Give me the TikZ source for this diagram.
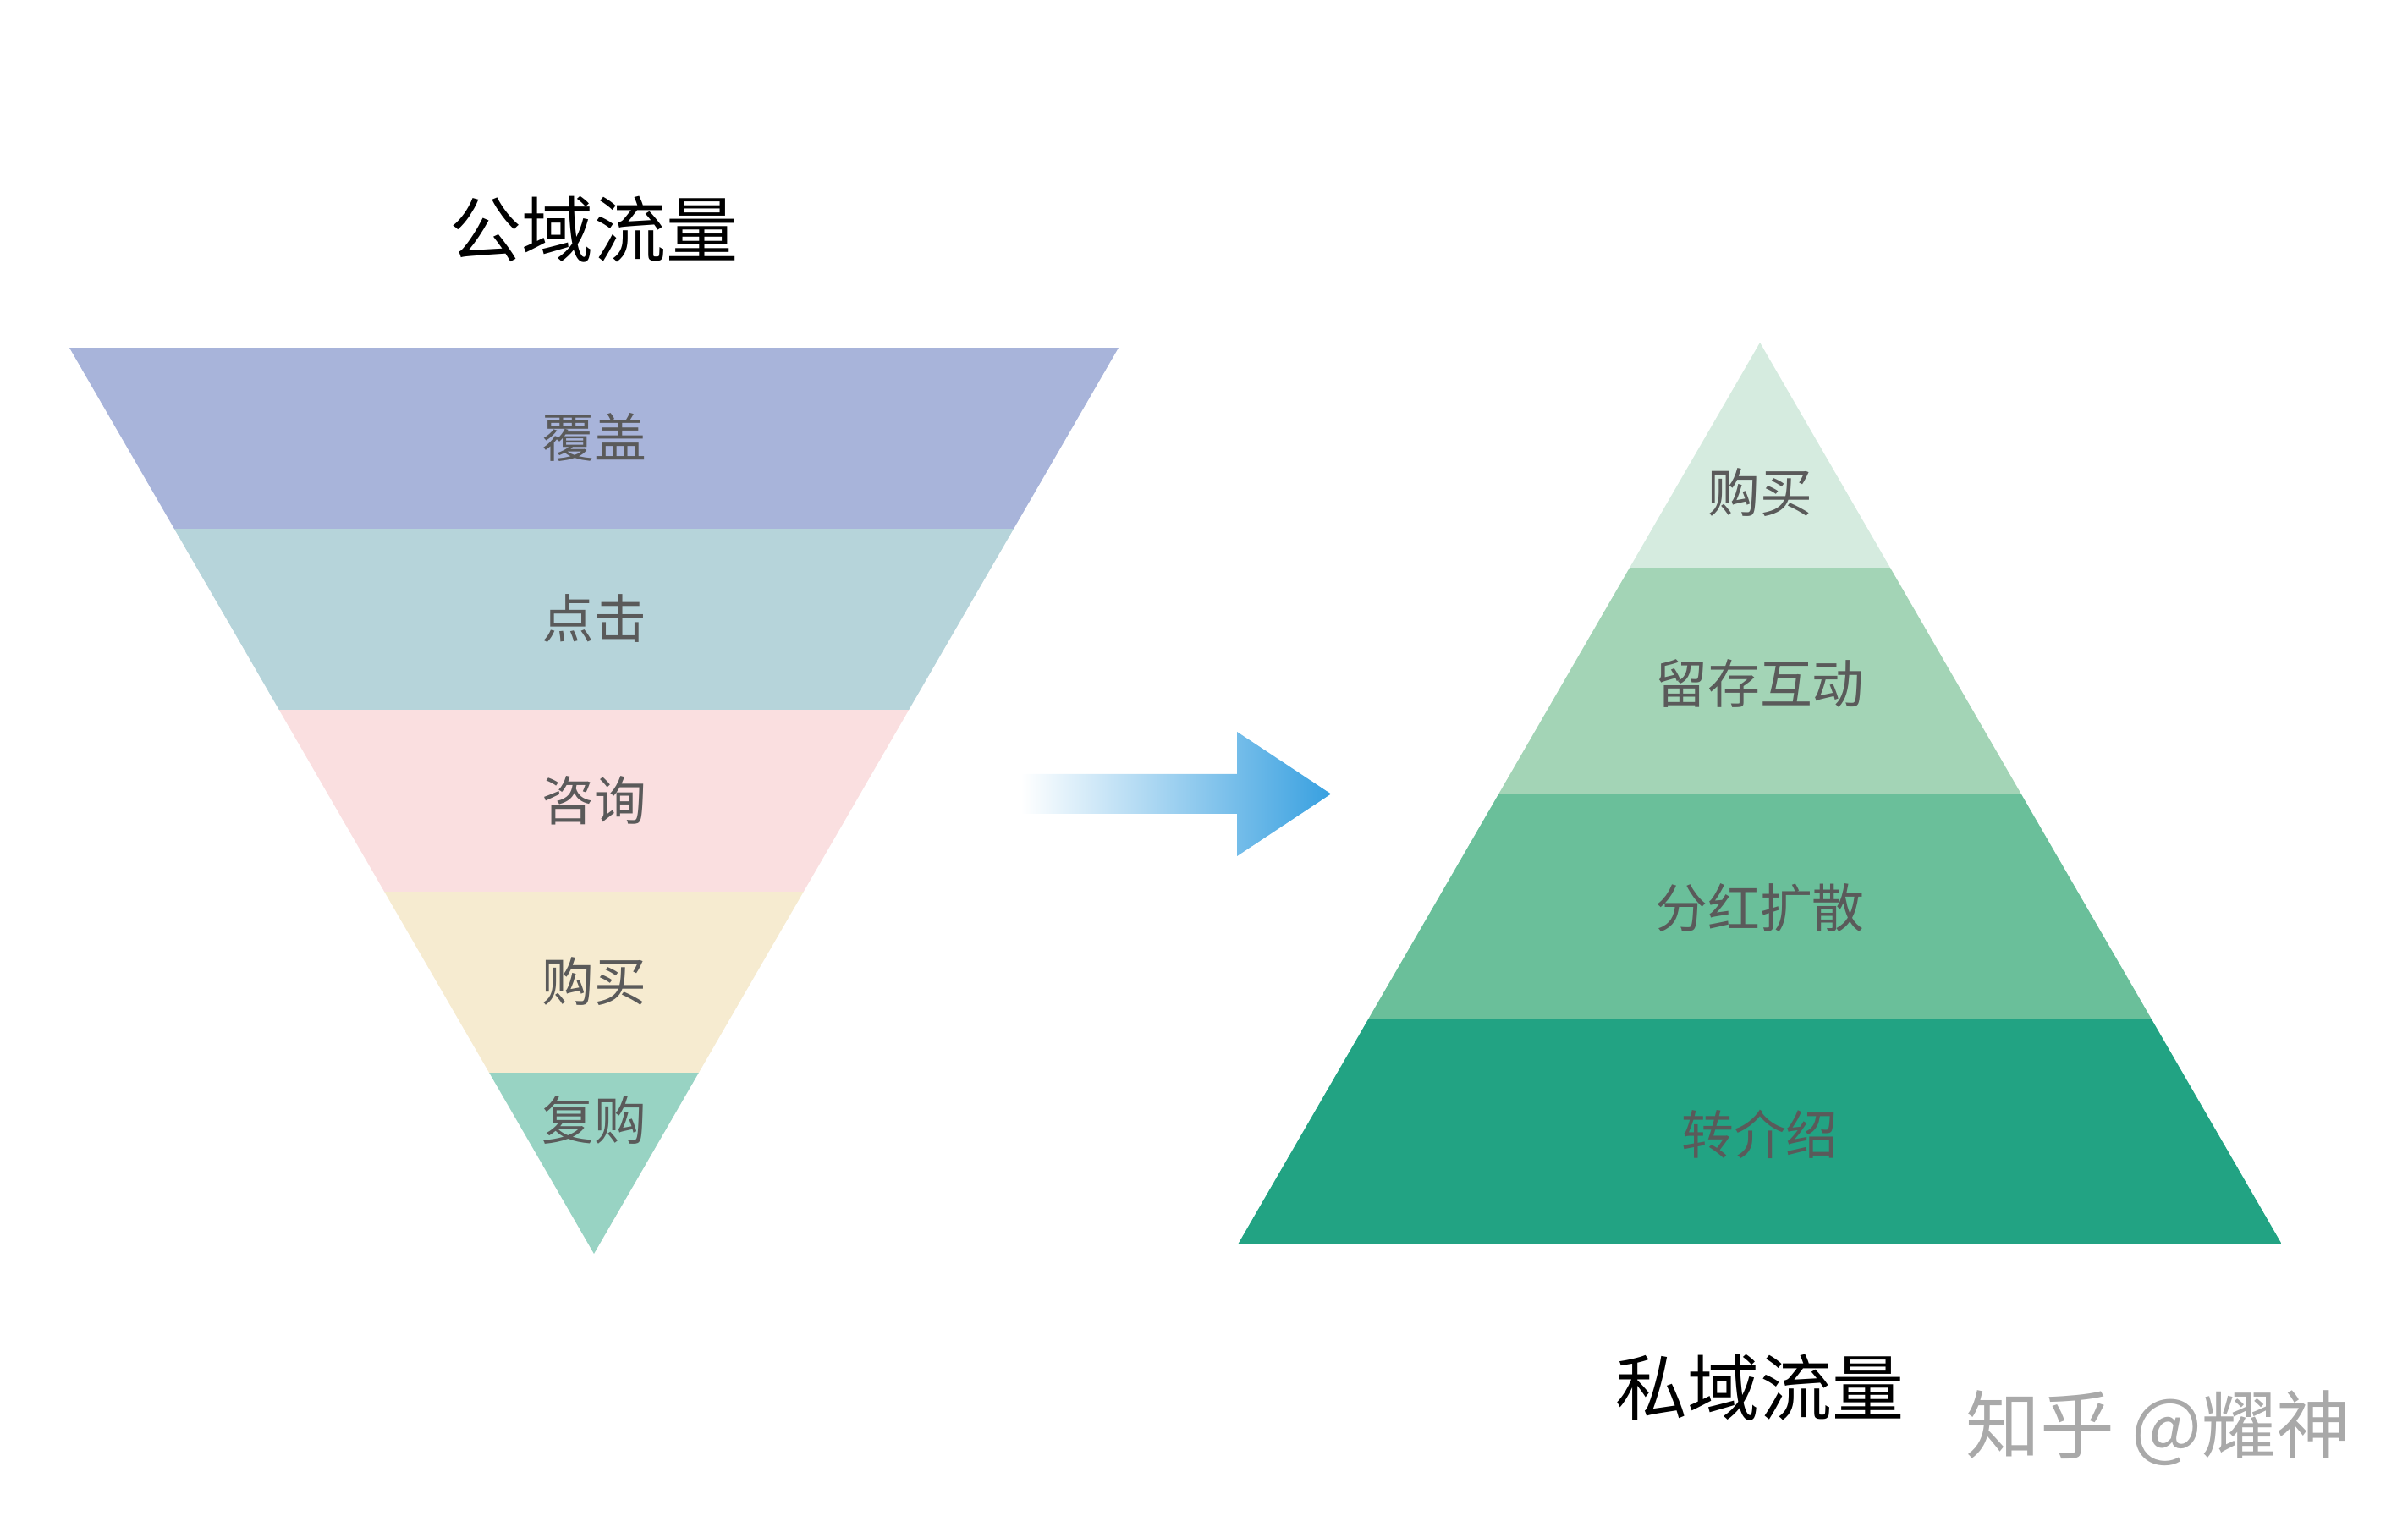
\documentclass[tikz,border=0pt]{standalone}
\usepackage{fontspec}
\newfontfamily\cjk{Noto Sans CJK SC}

\definecolor{funA}{HTML}{A8B4DA}
\definecolor{funB}{HTML}{B6D4DA}
\definecolor{funC}{HTML}{FADFE0}
\definecolor{funD}{HTML}{F6EBD0}
\definecolor{funE}{HTML}{98D3C3}
\definecolor{pyrA}{HTML}{D5EBDF}
\definecolor{pyrB}{HTML}{A3D4B6}
\definecolor{pyrC}{HTML}{6ABF9A}
\definecolor{pyrD}{HTML}{22A383}
\definecolor{labelgray}{HTML}{5A5A5A}
\definecolor{markgray}{HTML}{A9A9A9}
\definecolor{arrowblue}{HTML}{38A0E0}

\tikzset{layertext/.style={
    font=\cjk\fontsize{17.6}{20}\selectfont,
    text=labelgray,inner sep=0pt}}
\tikzset{titletext/.style={
    font=\cjk\fontsize{24.2}{28}\selectfont,
    text=black,inner sep=0pt}}
\tikzset{marktext/.style={
    font=\cjk\fontsize{25}{28}\selectfont,
    text=markgray,inner sep=0pt}}

\begin{document}
\begin{tikzpicture}

\useasboundingbox (0,0) rectangle (28.46,18.04);

%   漏斗（左）
\pgfmathsetmacro{\xL}{7.02}
\pgfmathsetmacro{\WL}{6.2}
\pgfmathsetmacro{\yLtop}{13.93}
\pgfmathsetmacro{\yLbot}{3.22}
\pgfmathsetmacro{\hL}{2.142}

%   金字塔（右）
\pgfmathsetmacro{\xR}{20.80}
\pgfmathsetmacro{\WR}{6.17}
\pgfmathsetmacro{\yRtop}{13.99}
\pgfmathsetmacro{\yRbot}{3.33}
\pgfmathsetmacro{\hR}{2.665}

%   箭头
\pgfmathsetmacro{\xa}{12.07}
\pgfmathsetmacro{\xb}{14.62}
\pgfmathsetmacro{\xc}{15.73}
\pgfmathsetmacro{\ya}{8.655}
\pgfmathsetmacro{\yb}{0.235}
\pgfmathsetmacro{\yc}{0.735}

\begin{scope}
    \clip (\xL-\WL,\yLtop) -- (\xL+\WL,\yLtop) -- (\xL,\yLbot) -- cycle;
    \fill[funA] (\xL-\WL,\yLtop) rectangle (\xL+\WL,\yLtop-\hL);
    \fill[funB] (\xL-\WL,\yLtop-\hL) rectangle (\xL+\WL,\yLtop-2*\hL);
    \fill[funC] (\xL-\WL,\yLtop-2*\hL) rectangle (\xL+\WL,\yLtop-3*\hL);
    \fill[funD] (\xL-\WL,\yLtop-3*\hL) rectangle (\xL+\WL,\yLtop-4*\hL);
    \fill[funE] (\xL-\WL,\yLtop-4*\hL) rectangle (\xL+\WL,\yLbot);
\end{scope}

\begin{scope}
    \clip (\xR-\WR,\yRbot) -- (\xR+\WR,\yRbot) -- (\xR,\yRtop) -- cycle;
    \fill[pyrA] (\xR-\WR,\yRtop) rectangle (\xR+\WR,\yRtop-\hR);
    \fill[pyrB] (\xR-\WR,\yRtop-\hR) rectangle (\xR+\WR,\yRtop-2*\hR);
    \fill[pyrC] (\xR-\WR,\yRtop-2*\hR) rectangle (\xR+\WR,\yRtop-3*\hR);
    \fill[pyrD] (\xR-\WR,\yRtop-3*\hR) rectangle (\xR+\WR,\yRbot);
\end{scope}

%   渐变箭头
\shade[left color=white,right color=arrowblue]
    (\xa,\ya+\yb) -- (\xb,\ya+\yb) -- (\xb,\ya+\yc) -- (\xc,\ya)
    -- (\xb,\ya-\yc) -- (\xb,\ya-\yb) -- (\xa,\ya-\yb) -- cycle;

%   漏斗文字
\node[layertext] (fugai)  at (\xL,12.87) {覆盖};
\node[layertext] (dianji) at (\xL,10.73) {点击};
\node[layertext] (zixun)  at (\xL,8.58)  {咨询};
\node[layertext] (goumai) at (\xL,6.44)  {购买};
\node[layertext] (fugou)  at (\xL,4.80)  {复购};

%   金字塔文字
\node[layertext] (goumaiR) at (\xR,12.22) {购买};
\node[layertext] (liucun)  at (\xR,9.96)  {留存互动};
\node[layertext] (fenhong) at (\xR,7.31)  {分红扩散};
\node[layertext] (zhuanjie) at (\xR,4.63) {转介绍};

%   标题
\node[titletext] (gongyu) at (\xL,15.33) {公域流量};
\node[titletext] (siyu)   at (\xR,1.64)  {私域流量};

%   水印
\node[marktext] (zhihu) at (25.51,1.16) {知乎 @耀神};

\end{tikzpicture}
\end{document}
